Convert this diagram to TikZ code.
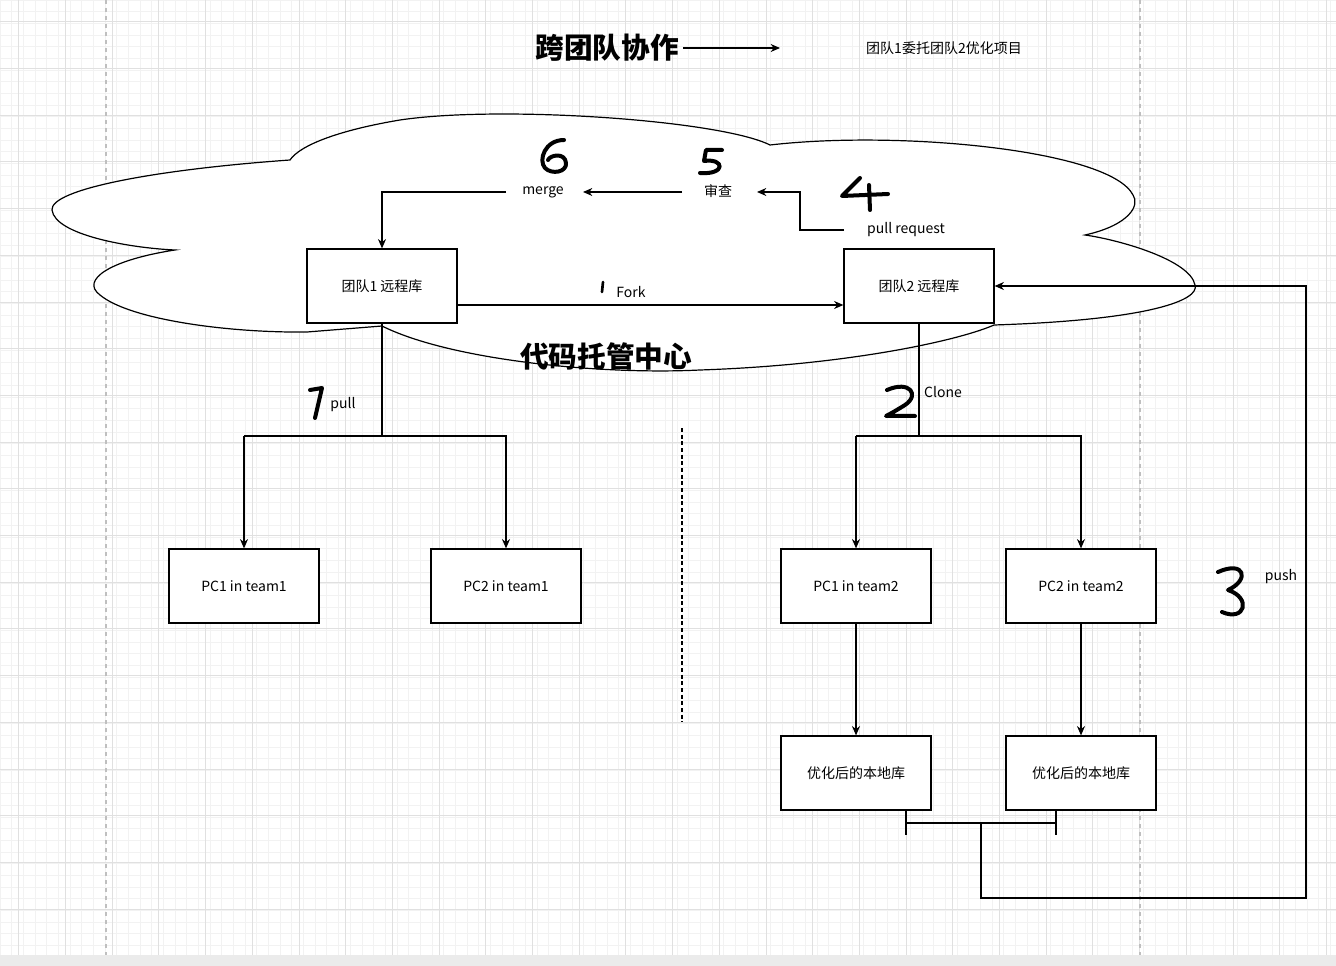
\documentclass[tikz,border=0pt]{standalone}
\usepackage{fontspec}
\setmainfont{Noto Sans CJK SC}
\usetikzlibrary{arrows.meta}
\begin{document}
\begin{tikzpicture}[x=0.75pt,y=-0.75pt,
  box/.style={draw,line width=0.9pt,minimum width=112.5pt,minimum height=55.5pt,inner sep=0pt,font=\fontsize{10.5}{12}\selectfont,fill=white},
  lbl/.style={font=\fontsize{10.5}{12}\selectfont,inner sep=1pt},
  big/.style={font=\fontsize{21.5}{24}\selectfont\bfseries},
  hand/.style={line width=3pt,line cap=round,line join=round},
  con/.style={line width=0.9pt},
  arr/.style={con,-{Stealth[length=7pt,width=6pt]}}]
\useasboundingbox (0,0) rectangle (1336,966);
\fill[white] (0,0) rectangle (1336,966);
\foreach \x in {0,11.67,...,1336} \draw[black!5,line width=0.4pt] (\x,0)--(\x,955);
\foreach \y in {0,11.67,...,955} \draw[black!5,line width=0.4pt] (0,\y)--(1336,\y);
\foreach \x in {18.7,65.4,...,1336} \draw[black!12,line width=0.5pt] (\x,0)--(\x,955);
\foreach \y in {21.7,68.4,...,955} \draw[black!12,line width=0.5pt] (0,\y)--(1336,\y);
\draw[black!25,dashed,line width=0.8pt] (106,0)--(106,955) (1140,0)--(1140,955);
\fill[black!8] (0,955) rectangle (1336,966);
% cloud
\draw[con,fill=white] (290,160) .. controls (150,170) and (50,190) .. (52,210)
 .. controls (55,235) and (130,248) .. (175,250)
 .. controls (110,260) and (80,280) .. (100,295)
 .. controls (130,320) and (230,333) .. (307,332) -- (382,326)
 .. controls (450,360) and (600,375) .. (700,370)
 .. controls (850,365) and (960,340) .. (994,325)
 .. controls (1150,320) and (1200,300) .. (1195,285)
 .. controls (1190,260) and (1120,240) .. (1085,235)
 .. controls (1130,225) and (1140,205) .. (1133,195)
 .. controls (1110,150) and (900,130) .. (770,145)
 .. controls (720,120) and (500,105) .. (400,120)
 .. controls (340,130) and (300,145) .. (290,160) -- cycle;
% title
\node[big] (title) at (607,48) {跨团队协作};
\node[lbl] (desc) at (944,48) {团队1委托团队2优化项目};
\coordinate (tend) at (780,48);
\draw[arr] (title.east) -- (tend);
\node[big] (center) at (606,356) {代码托管中心};
% boxes
\node[box] (r1) at (382,286) {团队1 远程库};
\node[box] (r2) at (919,286) {团队2 远程库};
\node[box] (p11) at (244,586) {PC1 in team1};
\node[box] (p21) at (506,586) {PC2 in team1};
\node[box] (p12) at (856,586) {PC1 in team2};
\node[box] (p22) at (1081,586) {PC2 in team2};
\node[box] (o1) at (856,773) {优化后的本地库};
\node[box] (o2) at (1081,773) {优化后的本地库};
% labels
\node[lbl] (merge) at (543,192) {merge};
\node[lbl] (review) at (718,191) {审查};
\node[lbl] (pr) at (906,230) {pull request};
\node[lbl] at (631,292) {Fork};
\node[lbl] at (343,405) {pull};
\node[lbl] at (943,392) {Clone};
\node[lbl] at (1281,577) {push};
% connectors
\draw[arr] (506,192) -| (r1.north);
\draw[arr] (682,192) -- (583,192);
\draw[arr] (844,230) -- (800,230) -- (800,192) -- (757,192);
\draw[arr] (r1.east|-0,305) -- (r2.west|-0,305);
\draw[con] (r1.south) -- (382,436);
\draw[arr] (244,436) -| (506,436) -- (p21.north);
\draw[arr] (244,436) -- (p11.north);
\draw[con] (r2.south) -- (919,436);
\draw[arr] (856,436) -| (1081,436) -- (p22.north);
\draw[arr] (856,436) -- (p12.north);
\draw[arr] (p12) -- (o1);
\draw[arr] (p22) -- (o2);
\draw[con] (906,810) -- (906,835) (1056,810) -- (1056,835) (906,823) -- (1056,823);
\draw[arr] (981,823) -- (981,898) -- (1306,898) -- (1306,286) -- (r2.east);
\draw[black,line width=0.8pt,dash pattern=on 3pt off 2pt] (682,428) -- (682,722);
% hand digits
\draw[hand,line width=2pt] (603,282) -- (602,292);
\draw[hand] (887,390) .. controls (910,380) and (920,395) .. (905,405) .. controls (897,410) and (890,414) .. (886,416) -- (915,416);
\draw[hand] (1218,572) .. controls (1245,560) and (1250,580) .. (1228,590) .. controls (1252,598) and (1245,622) .. (1222,612);
\draw[hand] (310,390) -- (322,388) -- (315,418);
\draw[hand] (564,140) .. controls (545,140) and (538,160) .. (545,168) .. controls (552,175) and (567,172) .. (566,163) .. controls (565,152) and (550,155) .. (548,160);
\draw[hand] (722,150) -- (706,150) -- (704,161) .. controls (725,158) and (726,175) .. (700,173);
\draw[hand] (860,178) -- (842,196) -- (888,194) (869,185) -- (870,210);
\end{tikzpicture}
\end{document}
